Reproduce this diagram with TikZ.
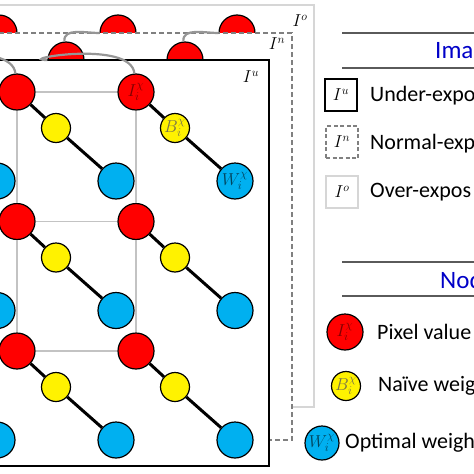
\documentclass[tikz,border=0pt]{standalone}
\usepackage{fontspec}
\setmainfont{Carlito}
\definecolor{cblue}{RGB}{0,176,240}
\definecolor{tblue}{RGB}{0,0,200}
\definecolor{ogray}{RGB}{214,214,214}
\definecolor{ngray}{RGB}{128,128,128}
\definecolor{ggray}{RGB}{195,195,195}
\definecolor{cgray}{RGB}{150,150,150}
\definecolor{rgray}{RGB}{90,90,90}
\tikzset{
  rc/.style={circle,draw=black,line width=1.2pt,fill=red,minimum size=36pt,inner sep=0pt},
  yc/.style={circle,draw=black,line width=1.2pt,fill=yellow,minimum size=29pt,inner sep=0pt},
  bc/.style={circle,draw=black,line width=1.2pt,fill=cblue,minimum size=36pt,inner sep=0pt},
  clab/.style={inner sep=0pt,font=\fontsize{18}{18}\selectfont},
  labr/.style={clab,text=red!50!black},
  laby/.style={clab,text=yellow!40!black},
  labb/.style={clab,text=cblue!40!black},
  gridln/.style={draw=ggray,line width=1.6pt},
  linkln/.style={draw=black,line width=3pt},
  curveln/.style={draw=cgray,line width=2.2pt},
  ufr/.style={draw=black,line width=2.6pt,fill=white},
  nfr/.style={draw=ngray,line width=2pt,dash pattern=on 5pt off 3pt,fill=white},
  ofr/.style={draw=ogray,line width=2.6pt,fill=white},
  flab/.style={inner sep=0pt,font=\fontsize{18}{18}\selectfont},
  legtxt/.style={anchor=west,inner sep=0pt,font=\fontsize{22}{22}\selectfont},
  legtitle/.style={anchor=west,inner sep=0pt,text=tblue,font=\fontsize{25}{25}\selectfont},
  rule/.style={draw=rgray,line width=1.6pt},
  legbox/.style={minimum width=32pt,minimum height=32pt,inner sep=0pt,font=\fontsize{18}{18}\selectfont}
}
\begin{document}
\begin{tikzpicture}[x=1pt,y=-1pt]
\useasboundingbox (0,0) rectangle (474,474);
\clip (0,0) rectangle (474,474);
\fill[white] (0,0) rectangle (474,474);
% over-exposed frame
\draw[ofr] (-30,5) rectangle (314,407);
\node[flab] (lo) at (300,21) {$I^o$};
\foreach \c/\x in {0/-1,1/118,2/237} {\node[rc] (o\c) at (\x,33) {};}
% normal-exposed frame
\draw[nfr] (-30,33) rectangle (292,440);
\node[flab] (ln) at (277,44) {$I^n$};
\foreach \c/\x in {0/-53,1/66,2/185} {\node[rc] (n\c) at (\x,60) {};}
% under-exposed frame
\draw[ufr] (-30,60) rectangle (269,466);
\node[flab] (lu) at (251,77) {$I^u$};
\foreach \c in {0,1,2} {
  \foreach \r in {0,1,2} {
    \pgfmathsetmacro\X{-102+119*\c}
    \pgfmathsetmacro\Y{92+129.5*\r}
    \node[rc] (r\c\r) at (\X,\Y) {};
    \node[yc] (y\c\r) at (\X+39,\Y+36) {};
    \node[bc] (b\c\r) at (\X+99,\Y+89) {};
  }
}
\node[labr] (lr20) at (r20) {$I_i^\chi$};
\node[laby] (ly20) at (y20) {$B_i^\chi$};
\node[labb] (lb20) at (b20) {$W_i^\chi$};
% grid lines
\foreach \c in {0,1,2} {
  \draw[gridln] (r\c0) -- (r\c1);
  \draw[gridln] (r\c1) -- (r\c2);
}
\foreach \r in {0,1,2} {
  \draw[gridln] (r0\r) -- (r1\r);
  \draw[gridln] (r1\r) -- (r2\r);
}
% links
\foreach \c in {0,1,2} {
  \foreach \r in {0,1,2} {
    \draw[linkln] (r\c\r) -- (y\c\r);
    \draw[linkln] (y\c\r) -- (b\c\r);
  }
}
% curves between exposures
\foreach \c/\d in {1/0,2/1} {
  \draw[curveln] (r\c0) to[out=95,in=180] (n\d);
}
\foreach \c in {0,1,2} {
  \draw[curveln] (n\c) to[out=95,in=180] (o\c);
}
% legend
\draw[rule] (342,33) -- (480,33);
\draw[rule] (342,68) -- (480,68);
\node[legtitle] (t1) at (435,51) {Ima};
\node[legbox,draw=black,line width=2pt] (bu) at (341,95) {$I^u$};
\node[legtxt] (tu) at (370,96) {Under-expo};
\node[legbox,draw=ngray,line width=2pt,dash pattern=on 4pt off 2.5pt] (bn) at (342,142) {$I^n$};
\node[legtxt] (tn) at (370,144) {Normal-exp};
\node[legbox,draw=ogray,line width=2pt] (bo) at (342,192) {$I^o$};
\node[legtxt] (to) at (370,192) {Over-expos};
\draw[rule] (342,262) -- (480,262);
\draw[rule] (342,296) -- (480,296);
\node[legtitle] (t2) at (440,280) {Nod};
\node[rc] (lr) at (345,332) {};
\node[labr] (lrt) at (lr) {$I_i^\chi$};
\node[legtxt] (tr) at (377,332) {Pixel value};
\node[yc] (ly) at (346,386) {};
\node[laby] (lyt) at (ly) {$B_i^\chi$};
\node[legtxt] (ty) at (378,386) {Naïve weig};
\node[bc,minimum size=34pt] (lb) at (322,443) {};
\node[labb] (lbt) at (lb) {$W_i^\chi$};
\node[legtxt] (tb) at (345,443) {Optimal weigh};
\end{tikzpicture}
\end{document}
